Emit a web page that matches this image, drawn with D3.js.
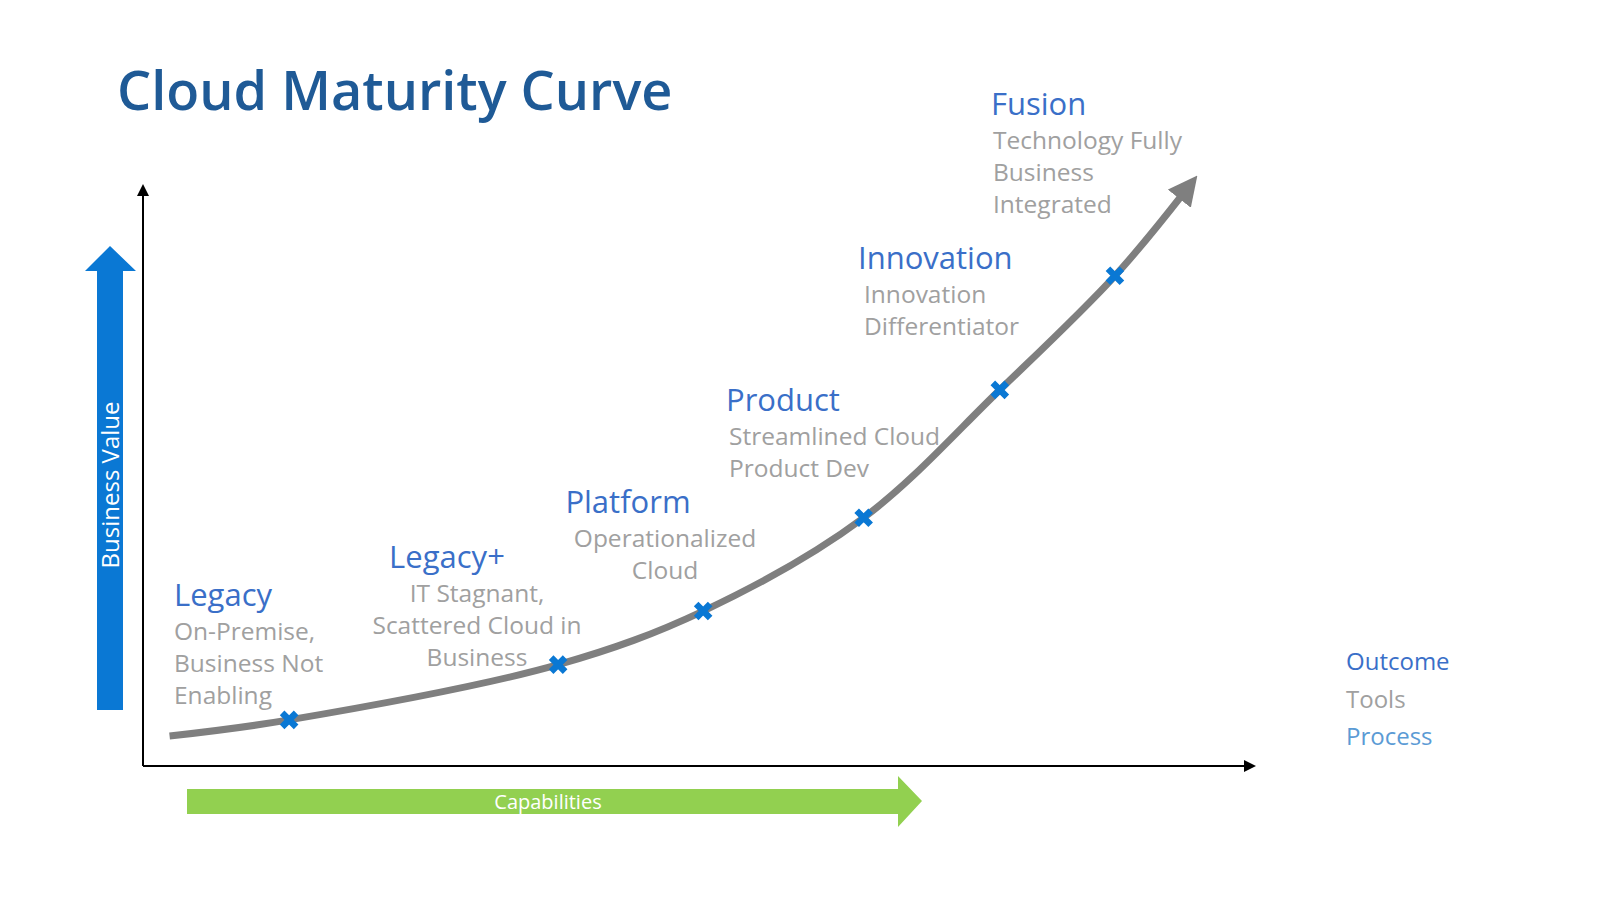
<!DOCTYPE html><html><head><meta charset="utf-8">
<script src="https://cdn.jsdelivr.net/npm/d3@7"></script>
<style>body{margin:0;background:#fff}text{font-family:"Open Sans","Noto Sans",sans-serif}</style></head><body>
<svg id="c" width="1600" height="898"></svg>
<script>
const curveX=[0.24,1.32,3.75,5.06,6.51,7.74,8.78,9.41];
const curveY=[0.52,0.80,1.76,2.69,4.31,6.53,8.51,9.97];
const stages=["Legacy","Legacy+","Platform","Product","Innovation","Fusion"];
const stageDesc=[["On-Premise,","Business Not","Enabling"],["IT Stagnant,","Scattered Cloud in","Business"],["Operationalized","Cloud"],["Streamlined Cloud","Product Dev"],["Innovation","Differentiator"],["Technology Fully","Business","Integrated"]];
const legendItems=["Outcome","Tools","Process"];
const svg=d3.select("#c");
const x=d3.scaleLinear().domain([0,10]).range([143,1250]);
const y=d3.scaleLinear().domain([0,10]).range([766,190]);
const defs=svg.append("defs");
defs.append("marker").attr("id","ah").attr("viewBox","0 0 10 10").attr("refX",5).attr("refY",5).attr("markerWidth",6).attr("markerHeight",6).attr("orient","auto").append("path").attr("d","M0,0L10,5L0,10z").attr("fill","#000");
defs.append("marker").attr("id","gh").attr("viewBox","0 0 10 10").attr("refX",3).attr("refY",5).attr("markerWidth",4.2).attr("markerHeight",4.2).attr("orient","auto").append("path").attr("d","M0,0L10,5L0,10z").attr("fill","#7f7f7f");
svg.append("text").attr("x",117).attr("y",110).attr("font-size",54).attr("font-weight",600).attr("fill","#1f5a96").text("Cloud Maturity Curve");
svg.append("line").attr("x1",x(0)).attr("y1",y(0)).attr("x2",x(10)).attr("y2",y(0)).attr("stroke","#000").attr("stroke-width",2).attr("marker-end","url(#ah)");
svg.append("line").attr("x1",x(0)).attr("y1",y(0)).attr("x2",x(0)).attr("y2",y(10)).attr("stroke","#000").attr("stroke-width",2).attr("marker-end","url(#ah)");
svg.append("path").attr("d","M97,710L123,710L123,271L136,271L110,246L85,271L97,271Z").attr("fill","#0a78d4");
svg.append("text").attr("transform","translate(119,485) rotate(-90)").attr("text-anchor","middle").attr("font-size",24).attr("fill","#fff").text("Business Value");
svg.append("path").attr("d","M187,789L898,789L898,776L922,801L898,827L898,814L187,814Z").attr("fill","#92d050");
svg.append("text").attr("x",548).attr("y",809).attr("text-anchor","middle").attr("font-size",20).attr("fill","#fff").text("Capabilities");
const pts=curveX.map((v,i)=>[x(v),y(curveY[i])]);
svg.append("path").attr("d",d3.line().curve(d3.curveCatmullRom)(pts)).attr("fill","none").attr("stroke","#7f7f7f").attr("stroke-width",7).attr("marker-end","url(#gh)");
const mk=pts.slice(1,7);
svg.selectAll(".m").data(mk).join("path").attr("d",d=>`M${d[0]-7},${d[1]-7}L${d[0]+7},${d[1]+7}M${d[0]+7},${d[1]-7}L${d[0]-7},${d[1]+7}`).attr("stroke","#0a78d4").attr("stroke-width",6.5);
const lab=[{x:174,y:606,a:"start",dx:0},{x:447,y:568,a:"middle",dx:30},{x:628,y:513,a:"middle",dx:37},{x:726,y:411,a:"start",dx:3},{x:858,y:269,a:"start",dx:6},{x:991,y:115,a:"start",dx:2}];
stages.forEach((s,i)=>{const L=lab[i];
svg.append("text").attr("x",L.x).attr("y",L.y).attr("text-anchor",L.a).attr("font-size",31).attr("fill","#3a6fc8").text(s);
stageDesc[i].forEach((t,j)=>svg.append("text").attr("x",L.x+L.dx).attr("y",L.y+34+j*32).attr("text-anchor",L.a).attr("font-size",24.5).attr("fill","#a0a0a0").text(t));});
const lc=["#3a6fc8","#a0a0a0","#5b9bd5"];
legendItems.forEach((t,i)=>svg.append("text").attr("x",1346).attr("y",670+i*37.5).attr("font-size",24).attr("fill",lc[i]).text(t));
</script></body></html>
